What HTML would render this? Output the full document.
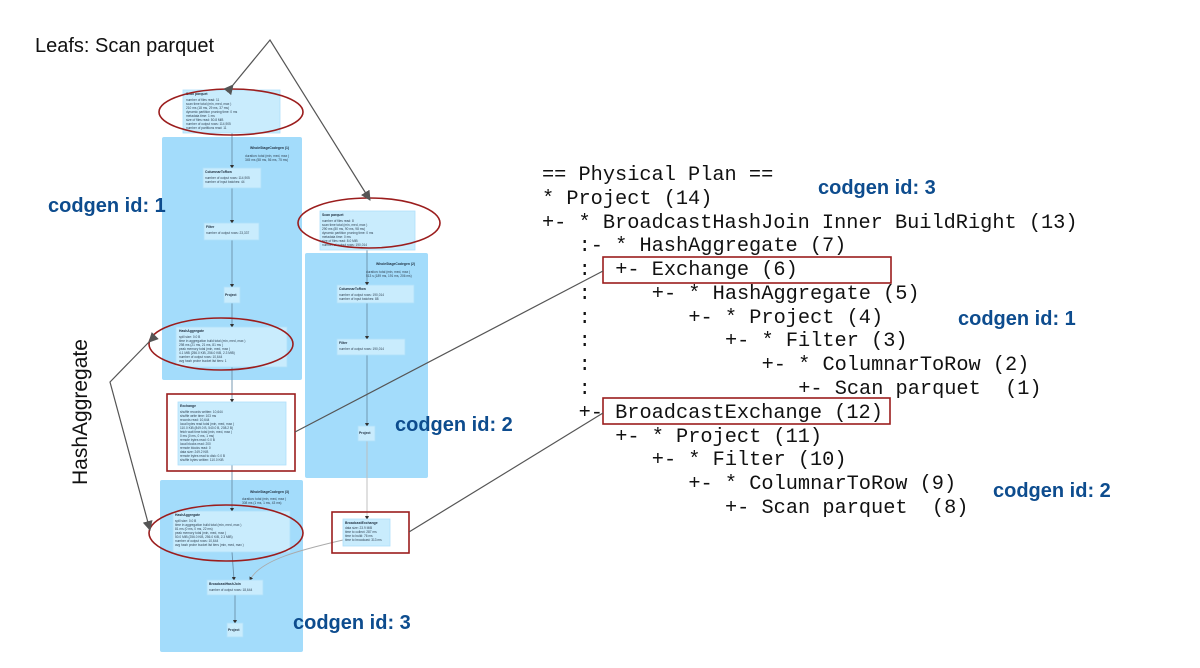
<!DOCTYPE html>
<html><head><meta charset="utf-8"><style>
html,body{margin:0;padding:0;background:#fff;}
svg{display:block;}
.cg{font-family:"Liberation Sans",sans-serif;font-weight:bold;font-size:20px;fill:#0d4c8e;}
.pl{font-family:"Liberation Mono",monospace;font-size:20.3px;fill:#111;}
.t{font-family:"Liberation Sans",sans-serif;font-size:3.2px;fill:#345;}
.tb{font-family:"Liberation Sans",sans-serif;font-size:3.4px;font-weight:bold;fill:#234;}
.pan{fill:#a3dcfb;}
.nd{fill:#c9ecfd;stroke:#b0e0fb;stroke-width:0.8;}
.red{fill:none;stroke:#9b1d1d;stroke-width:1.6;}
</style></head><body>
<svg width="1200" height="668" viewBox="0 0 1200 668" xmlns="http://www.w3.org/2000/svg">
<defs><marker id="ah" markerWidth="10" markerHeight="10" refX="9" refY="5" orient="auto" markerUnits="userSpaceOnUse"><path d="M0,0 L10,5 L0,10 z" fill="#555"/></marker>
<marker id="sa" markerWidth="4" markerHeight="4" refX="3" refY="2" orient="auto" markerUnits="userSpaceOnUse"><path d="M0,0 L4,2 L0,4 z" fill="#333"/></marker></defs>

<text x="35" y="52" font-family="Liberation Sans,sans-serif" font-size="20" fill="#111">Leafs: Scan parquet</text>
<text transform="translate(87,485) rotate(-90)" font-family="Liberation Sans,sans-serif" font-size="21" fill="#111">HashAggregate</text>

<rect class="pan" x="162" y="137" width="140" height="243" rx="2"/>
<rect class="pan" x="305" y="253" width="123" height="225" rx="2"/>
<rect class="pan" x="160" y="480" width="143" height="172" rx="2"/>

<g stroke="#6a8fa8" stroke-width="0.9" fill="none">
<line x1="232" y1="133" x2="232" y2="168" marker-end="url(#sa)"/>
<line x1="232" y1="188" x2="232" y2="223" marker-end="url(#sa)"/>
<line x1="232" y1="240" x2="232" y2="287" marker-end="url(#sa)"/>
<line x1="232" y1="303" x2="232" y2="327" marker-end="url(#sa)"/>
<line x1="232" y1="367" x2="232" y2="402" marker-end="url(#sa)"/>
<line x1="232" y1="465" x2="232" y2="511" marker-end="url(#sa)"/>
<line x1="232" y1="552" x2="234" y2="580" marker-end="url(#sa)"/>
<line x1="235" y1="595" x2="235" y2="623" marker-end="url(#sa)"/>
<line x1="367" y1="250" x2="367" y2="285" marker-end="url(#sa)"/>
<line x1="367" y1="303" x2="367" y2="339" marker-end="url(#sa)"/>
<line x1="367" y1="355" x2="367" y2="426" marker-end="url(#sa)"/>
<line x1="367" y1="441" x2="367" y2="519" marker-end="url(#sa)" stroke="#bbb"/>
<path d="M343,540 C300,550 260,560 250,580" stroke="#aaa" marker-end="url(#sa)"/>
</g>

<rect class="nd" x="183" y="90" width="97" height="43"/>
<text class="tb" x="186" y="95">Scan parquet</text>
<g class="t"><text x="186" y="101">number of files read: 11</text><text x="186" y="105">scan time total (min, med, max )</text><text x="186" y="109">210 ms (18 ms, 29 ms, 37 ms)</text><text x="186" y="113">dynamic partition pruning time: 0 ms</text><text x="186" y="117">metadata time: 1 ms</text><text x="186" y="121">size of files read: 50.8 MiB</text><text x="186" y="125">number of output rows: 114,905</text><text x="186" y="129">number of partitions read: 11</text></g>
<text class="tb" x="250" y="149">WholeStageCodegen (1)</text>
<text class="t" x="245" y="157">duration: total (min, med, max )</text><text class="t" x="245" y="161">345 ms (58 ms, 56 ms, 75 ms)</text>
<rect class="nd" x="203" y="168" width="58" height="20"/><text class="tb" x="205" y="173">ColumnarToRow</text><text class="t" x="205" y="179">number of output rows: 114,905</text><text class="t" x="205" y="183">number of input batches: 44</text>
<rect class="nd" x="204" y="223" width="55" height="17"/><text class="tb" x="206" y="228">Filter</text><text class="t" x="206" y="234">number of output rows: 23,337</text>
<rect class="nd" x="224" y="287" width="16" height="16"/><text class="tb" x="225" y="296">Project</text>
<rect class="nd" x="176" y="327" width="111" height="40"/><text class="tb" x="179" y="332">HashAggregate</text>
<g class="t"><text x="179" y="338">spill size: 0.0 B</text><text x="179" y="342">time in aggregation build total (min, med, max )</text><text x="179" y="346">298 ms (21 ms, 21 ms, 81 ms )</text><text x="179" y="350">peak memory total (min, med, max )</text><text x="179" y="354">4.1 MiB (256.0 KiB, 256.0 KiB, 2.3 MiB)</text><text x="179" y="358">number of output rows: 10,644</text><text x="179" y="362">avg hash probe bucket list iters: 1</text></g>

<rect class="nd" x="320" y="211" width="95" height="39"/><text class="tb" x="322" y="216">Scan parquet</text>
<g class="t"><text x="322" y="222">number of files read: 8</text><text x="322" y="226">scan time total (min, med, max )</text><text x="322" y="230">290 ms (80 ms, 90 ms, 98 ms)</text><text x="322" y="234">dynamic partition pruning time: 0 ms</text><text x="322" y="238">metadata time: 0 ms</text><text x="322" y="242">size of files read: 8.0 MiB</text><text x="322" y="246">number of output rows: 190,014</text></g>
<text class="tb" x="376" y="265">WholeStageCodegen (2)</text>
<text class="t" x="366" y="273">duration: total (min, med, max )</text><text class="t" x="366" y="277">513 s (189 ms, 191 ms, 206 ms)</text>
<rect class="nd" x="337" y="285" width="77" height="18"/><text class="tb" x="339" y="290">ColumnarToRow</text><text class="t" x="339" y="296">number of output rows: 190,014</text><text class="t" x="339" y="300">number of input batches: 88</text>
<rect class="nd" x="337" y="339" width="68" height="16"/><text class="tb" x="339" y="344">Filter</text><text class="t" x="339" y="350">number of output rows: 190,014</text>
<rect class="nd" x="358" y="426" width="17" height="15"/><text class="tb" x="359" y="434">Project</text>

<rect class="nd" x="178" y="402" width="108" height="63"/><text class="tb" x="180" y="407">Exchange</text>
<g class="t"><text x="180" y="413">shuffle records written: 10,644</text><text x="180" y="417">shuffle write time: 103 ms</text><text x="180" y="421">records read: 10,644</text><text x="180" y="425">local bytes read total (min, med, max )</text><text x="180" y="429">110.0 KiB (849.0 B, 540.0 B, 208.2 B)</text><text x="180" y="433">fetch wait time total (min, med, max )</text><text x="180" y="437">0 ms (0 ms, 0 ms, 1 ms)</text><text x="180" y="441">remote bytes read: 0.0 B</text><text x="180" y="445">local blocks read: 200</text><text x="180" y="449">remote blocks read: 0</text><text x="180" y="453">data size: 249.2 KiB</text><text x="180" y="457">remote bytes read to disk: 0.0 B</text><text x="180" y="461">shuffle bytes written: 110.0 KiB</text></g>

<text class="tb" x="250" y="493">WholeStageCodegen (3)</text>
<text class="t" x="242" y="500">duration: total (min, med, max )</text><text class="t" x="242" y="504">308 ms (1 ms, 1 ms, 43 ms)</text>
<rect class="nd" x="173" y="511" width="117" height="41"/><text class="tb" x="175" y="516">HashAggregate</text>
<g class="t"><text x="175" y="522">spill size: 0.0 B</text><text x="175" y="526">time in aggregation build total (min, med, max )</text><text x="175" y="530">81 ms (0 ms, 0 ms, 22 ms)</text><text x="175" y="534">peak memory total (min, med, max )</text><text x="175" y="538">50.0 MiB (256.0 KiB, 256.0 KiB, 2.3 MiB)</text><text x="175" y="542">number of output rows: 10,644</text><text x="175" y="546">avg hash probe bucket list iters (min, med, max )</text></g>
<rect class="nd" x="207" y="580" width="56" height="15"/><text class="tb" x="209" y="585">BroadcastHashJoin</text><text class="t" x="209" y="591">number of output rows: 18,644</text>
<rect class="nd" x="227" y="623" width="16" height="14"/><text class="tb" x="228" y="631">Project</text>

<rect class="nd" x="343" y="519" width="47" height="27"/><text class="tb" x="345" y="524">BroadcastExchange</text>
<g class="t"><text x="345" y="529">data size: 23.9 MiB</text><text x="345" y="533">time to collect: 287 ms</text><text x="345" y="537">time to build: 76 ms</text><text x="345" y="541">time to broadcast: 313 ms</text></g>

<ellipse class="red" cx="231" cy="112" rx="72" ry="23"/>
<ellipse class="red" cx="369" cy="223" rx="71" ry="25"/>
<ellipse class="red" cx="221" cy="344" rx="72" ry="26"/>
<ellipse class="red" cx="226" cy="533" rx="77" ry="28"/>
<rect class="red" x="167" y="394" width="128" height="77"/>
<rect class="red" x="332" y="512" width="77" height="41"/>
<rect class="red" x="603" y="257" width="288" height="26"/>
<rect class="red" x="603" y="398" width="287" height="26"/>

<g stroke="#555" stroke-width="1.2" fill="none">
<polyline points="233,85 270,40 370,200" marker-start="url(#ah)" marker-end="url(#ah)"/>
<path d="M149,342 L110,382 L150,530" marker-start="url(#ah)" marker-end="url(#ah)"/>
<line x1="295" y1="432" x2="603" y2="271"/>
<line x1="409" y1="532" x2="603" y2="413"/>
</g>

<text class="cg" x="48" y="212">codgen id: 1</text>
<text class="cg" x="395" y="431">codgen id: 2</text>
<text class="cg" x="293" y="629">codgen id: 3</text>
<text class="cg" x="818" y="194">codgen id: 3</text>
<text class="cg" x="958" y="325">codgen id: 1</text>
<text class="cg" x="993" y="497">codgen id: 2</text>

<g class="pl">
<text x="542" y="180">== Physical Plan ==</text>
<text x="542" y="204">* Project (14)</text>
<text x="542" y="228">+- * BroadcastHashJoin Inner BuildRight (13)</text>
<text x="578.6" y="251">:- * HashAggregate (7)</text>
<text x="578.6" y="275">:</text><text x="615.2" y="275">+- Exchange (6)</text>
<text x="578.6" y="299">:</text><text x="651.8" y="299">+- * HashAggregate (5)</text>
<text x="578.6" y="323">:</text><text x="688.4" y="323">+- * Project (4)</text>
<text x="578.6" y="346">:</text><text x="725" y="346">+- * Filter (3)</text>
<text x="578.6" y="370">:</text><text x="761.6" y="370">+- * ColumnarToRow (2)</text>
<text x="578.6" y="394">:</text><text x="798.2" y="394">+- Scan parquet&#160;&#160;(1)</text>
<text x="578.6" y="418">+- BroadcastExchange (12)</text>
<text x="615.2" y="442">+- * Project (11)</text>
<text x="651.8" y="465">+- * Filter (10)</text>
<text x="688.4" y="489">+- * ColumnarToRow (9)</text>
<text x="725" y="513">+- Scan parquet&#160;&#160;(8)</text>
</g>
</svg>
</body></html>
